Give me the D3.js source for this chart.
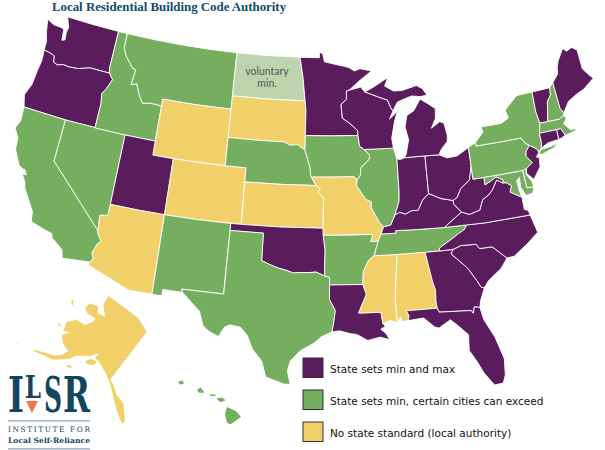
<!DOCTYPE html>
<html>
<head>
<meta charset="utf-8">
<script src="https://cdn.jsdelivr.net/npm/d3@7"></script>
<style>
  html, body { margin: 0; padding: 0; background: #fff; }
  svg { display: block; }
</style>
</head>
<body>
<svg id="chart" width="605" height="450"></svg>
<script>
// categories, in legend order
const categories = ['min-max', 'min-cities', 'none', 'voluntary'];
const legendLabels = ['State sets min and max', 'State sets min, certain cities can exceed', 'No state standard (local authority)'];
const minMaxStates = ['WA','OR','UT','MN','WI','MI','IN','OH','KY','WV','VA','NC','SC','GA','FL','LA','OK','NJ','CT','RI','VT','ME'];
const minCitiesStates = ['CA','NV','ID','MT','NM','TX','NE','IA','IL','AR','TN','PA','NY','MD','DE','MA','NH','HI'];
const noStandardStates = ['AK','AZ','CO','WY','SD','KS','MO','MS','AL'];
const voluntaryStates = ['ND'];

// state outlines, lon/lat, read by eye
const outlines = {
  WA: [[[-124.7,48.4],[-123.9,48.17],[-123.1,48.15],[-122.75,48.1],[-122.6,47.3],[-122.3,47.4],[-122.4,47.95],[-122.3,48.3],[-122.75,49],[-120,49],[-117.03,49],[-117.04,46.42],[-116.92,45.99],[-118.98,46],[-119.3,45.93],[-120.2,45.72],[-121.2,45.65],[-121.7,45.7],[-122.3,45.55],[-122.75,45.65],[-122.9,46.1],[-123.4,46.2],[-124.05,46.27],[-124.1,46.9],[-124.4,47.5]]],
  OR: [[[-124.05,46.27],[-123.4,46.2],[-122.9,46.1],[-122.75,45.65],[-122.3,45.55],[-121.7,45.7],[-121.2,45.65],[-120.2,45.72],[-119.3,45.93],[-118.98,46],[-116.92,45.99],[-116.46,45.6],[-116.85,44.9],[-117.2,44.45],[-117.03,43.8],[-117.03,42],[-120,42],[-124.21,42],[-124.55,42.84],[-124.15,43.7],[-124.07,44.7],[-123.95,45.5]]],
  CA: [[[-124.21,42],[-120,42],[-120,39],[-114.63,35],[-114.57,34.8],[-114.14,34.3],[-114.43,34.1],[-114.72,33.4],[-114.52,33.03],[-114.72,32.72],[-117.12,32.53],[-117.3,33.1],[-118.4,33.75],[-118.5,34.03],[-119.2,34.15],[-120.5,34.45],[-120.65,35.15],[-121.9,36.6],[-122,36.95],[-122.5,37.5],[-122.1,37.5],[-122.4,37.85],[-122.5,37.8],[-123,38],[-123.75,39],[-123.85,39.8],[-124.4,40.4],[-124.1,41]]],
  NV: [[[-120,42],[-114.04,42],[-114.04,36.2],[-114.75,36.1],[-114.63,35],[-120,39]]],
  ID: [[[-117.03,49],[-116.05,49],[-116.05,48],[-115.7,47.5],[-114.7,46.7],[-114.35,46.65],[-114.5,45.56],[-113.95,45.7],[-113.45,44.95],[-113,44.45],[-112.3,44.55],[-111.5,44.55],[-111.05,44.48],[-111.05,42],[-114.04,42],[-117.03,42],[-117.03,43.8],[-117.2,44.45],[-116.85,44.9],[-116.46,45.6],[-116.92,45.99],[-117.04,46.42]]],
  MT: [[[-116.05,49],[-113,49],[-110,49],[-107,49],[-104.05,49],[-104.05,45],[-107.5,45],[-111.05,45],[-111.05,44.48],[-111.5,44.55],[-112.3,44.55],[-113,44.45],[-113.45,44.95],[-113.95,45.7],[-114.5,45.56],[-114.35,46.65],[-114.7,46.7],[-115.7,47.5],[-116.05,48]]],
  WY: [[[-111.05,45],[-107.5,45],[-104.05,45],[-104.05,41],[-107.5,41],[-111.05,41]]],
  UT: [[[-114.04,42],[-111.05,42],[-111.05,41],[-109.05,41],[-109.05,37],[-111.5,37],[-114.04,37]]],
  CO: [[[-109.05,41],[-105.5,41],[-102.05,41],[-102.05,37],[-105.5,37],[-109.05,37]]],
  AZ: [[[-114.04,37],[-111.5,37],[-109.05,37],[-109.05,31.33],[-111.07,31.33],[-114.81,32.5],[-114.72,32.72],[-114.52,33.03],[-114.72,33.4],[-114.43,34.1],[-114.14,34.3],[-114.57,34.8],[-114.63,35],[-114.75,36.1],[-114.04,36.2]]],
  NM: [[[-109.05,37],[-106,37],[-103,37],[-103.04,32],[-106.62,32],[-106.53,31.78],[-108.21,31.78],[-108.21,31.33],[-109.05,31.33]]],
  ND: [[[-104.05,49],[-101,49],[-97.23,49],[-96.85,47.6],[-96.56,45.94],[-100,45.94],[-104.05,45.94]]],
  SD: [[[-104.05,45.94],[-100,45.94],[-96.56,45.94],[-96.45,45.3],[-96.45,43.5],[-96.45,42.49],[-96.7,42.6],[-97.2,42.85],[-97.9,42.78],[-98.5,43],[-101,43],[-104.05,43],[-104.05,45]]],
  NE: [[[-104.05,43],[-101,43],[-98.5,43],[-97.9,42.78],[-97.2,42.85],[-96.7,42.6],[-96.45,42.49],[-96.1,41.7],[-95.9,41.2],[-95.85,40.7],[-95.31,40],[-98.5,40],[-102.05,40],[-102.05,41],[-104.05,41]]],
  KS: [[[-102.05,40],[-98.5,40],[-95.31,40],[-94.9,39.8],[-95.1,39.55],[-94.6,39.1],[-94.62,37],[-98.5,37],[-102.05,37]]],
  OK: [[[-103,37],[-102.05,37],[-98.5,37],[-94.62,37],[-94.43,35.4],[-94.48,33.64],[-95.2,33.9],[-96,33.85],[-96.6,33.85],[-97.2,33.8],[-97.7,33.95],[-98.5,34.1],[-99.2,34.3],[-100,34.56],[-100,36.5],[-103,36.5]]],
  TX: [[[-106.62,32],[-103.04,32],[-103,36.5],[-100,36.5],[-100,34.56],[-99.2,34.3],[-98.5,34.1],[-97.7,33.95],[-97.2,33.8],[-96.6,33.85],[-96,33.85],[-95.2,33.9],[-94.48,33.64],[-94.04,33.55],[-94.04,33],[-94.04,31.99],[-93.55,31.2],[-93.7,30.3],[-93.84,29.7],[-94.7,29.35],[-95.3,28.9],[-96.4,28.35],[-97.2,27.6],[-97.4,26.9],[-97.15,25.96],[-97.6,25.95],[-99.1,26.4],[-99.5,27.5],[-100.3,28.3],[-100.8,29.25],[-101.4,29.77],[-102.3,29.88],[-102.7,29.7],[-103.15,28.98],[-104,29.3],[-104.5,29.65],[-104.9,30.6],[-106,31.4],[-106.53,31.78]]],
  MN: [[[-97.23,49],[-95.15,49],[-95.15,49.38],[-94.8,49.3],[-94.6,48.72],[-93.5,48.55],[-92.5,48.4],[-92,48.3],[-91.4,48.05],[-90.8,48.2],[-89.6,48],[-91,47.3],[-92.01,46.7],[-92.3,46.65],[-92.29,46.07],[-92.87,45.7],[-92.75,44.75],[-91.9,44.3],[-91.25,43.85],[-91.22,43.5],[-94,43.5],[-96.45,43.5],[-96.45,45.3],[-96.56,45.94],[-96.85,47.6]]],
  IA: [[[-96.45,43.5],[-94,43.5],[-91.22,43.5],[-91.1,42.75],[-90.65,42.5],[-90.15,42.1],[-90.2,41.8],[-91.05,41.2],[-91.1,40.7],[-91.42,40.38],[-91.73,40.61],[-93.5,40.6],[-95.77,40.58],[-95.85,40.7],[-95.9,41.2],[-96.1,41.7],[-96.45,42.49]]],
  MO: [[[-95.77,40.58],[-93.5,40.6],[-91.73,40.61],[-91.42,40.38],[-91.5,40],[-90.7,39],[-90.15,38.8],[-90.2,38.4],[-89.5,37.3],[-89.15,37],[-89.4,36.5],[-89.7,36],[-90.37,36],[-90.15,36.5],[-92.4,36.5],[-94.62,36.5],[-94.62,37],[-94.6,39.1],[-95.1,39.55],[-94.9,39.8],[-95.31,40]]],
  AR: [[[-94.62,36.5],[-92.4,36.5],[-90.15,36.5],[-90.37,36],[-89.7,36],[-90.1,35],[-90.6,34.7],[-91.1,33.9],[-91.17,33],[-94.04,33],[-94.04,33.55],[-94.48,33.64],[-94.43,35.4]]],
  LA: [[[-94.04,33],[-91.17,33],[-90.9,32.3],[-91.6,31],[-89.73,31],[-89.6,30.18],[-89.4,30],[-89.8,29.8],[-89.4,29.5],[-89.1,29.05],[-89.9,29.25],[-90.9,29.05],[-91.8,29.5],[-92.3,29.55],[-93.2,29.77],[-93.84,29.7],[-93.7,30.3],[-93.55,31.2],[-94.04,31.99]]],
  MS: [[[-90.1,35],[-88.2,35],[-88.1,34.9],[-88.47,31.9],[-88.4,30.2],[-89,30.4],[-89.6,30.18],[-89.73,31],[-91.6,31],[-90.9,32.3],[-91.17,33],[-91.1,33.9],[-90.6,34.7]]],
  AL: [[[-88.2,35],[-85.6,35],[-85.18,32.87],[-85,32.3],[-85.05,31.5],[-85,31],[-87.6,31],[-87.4,30.65],[-87.5,30.3],[-88,30.25],[-88.1,30.6],[-88.4,30.2],[-88.47,31.9],[-88.1,34.9]]],
  TN: [[[-90.1,35],[-89.7,36],[-89.4,36.5],[-88.07,36.5],[-88.07,36.68],[-86.5,36.65],[-83.68,36.6],[-81.68,36.59],[-81.9,36.3],[-82.6,36],[-83.1,35.75],[-84.3,35.2],[-84.32,34.99],[-85.6,35],[-88.2,35]]],
  KY: [[[-89.4,36.5],[-89.15,37],[-88.5,37.1],[-88.05,37.8],[-87.6,37.95],[-87.1,37.8],[-86.5,38],[-85.9,38],[-85.4,38.7],[-84.8,39.1],[-84.3,38.9],[-83.7,38.65],[-82.6,38.42],[-82.6,38.17],[-81.97,37.54],[-83.68,36.6],[-86.5,36.65],[-88.07,36.68],[-88.07,36.5]]],
  IL: [[[-90.65,42.5],[-87.8,42.49],[-87.53,41.72],[-87.53,39.35],[-87.6,38.7],[-87.95,38],[-88.05,37.8],[-88.5,37.1],[-89.15,37],[-89.5,37.3],[-90.2,38.4],[-90.15,38.8],[-90.7,39],[-91.5,40],[-91.42,40.38],[-91.1,40.7],[-91.05,41.2],[-90.2,41.8],[-90.15,42.1]]],
  IN: [[[-87.53,41.72],[-87.2,41.65],[-86.8,41.76],[-84.8,41.76],[-84.8,39.1],[-85.4,38.7],[-85.9,38],[-86.5,38],[-87.1,37.8],[-87.6,37.95],[-88.05,37.8],[-87.95,38],[-87.6,38.7],[-87.53,39.35]]],
  OH: [[[-84.8,41.76],[-83.45,41.73],[-82.7,41.45],[-81.7,41.5],[-80.52,41.98],[-80.52,40.64],[-80.85,39.7],[-81.75,39.2],[-82.2,38.6],[-82.6,38.42],[-83.7,38.65],[-84.3,38.9],[-84.8,39.1]]],
  WI: [[[-92.01,46.7],[-90.8,46.9],[-90.4,46.55],[-89,46.15],[-88.1,45.9],[-87.8,45.35],[-87.6,45.1],[-88,44.55],[-87.4,44.9],[-87.05,45.25],[-87.5,44.4],[-87.9,43.2],[-87.8,42.49],[-90.65,42.5],[-91.1,42.75],[-91.22,43.5],[-91.25,43.85],[-91.9,44.3],[-92.75,44.75],[-92.87,45.7],[-92.29,46.07],[-92.3,46.65]]],
  MI: [[[-86.8,41.76],[-84.8,41.76],[-83.45,41.73],[-83.15,42.1],[-82.5,42.6],[-82.42,43],[-82.6,43.9],[-83,44.05],[-83.9,43.65],[-83.4,44.3],[-83.3,45],[-84.1,45.45],[-84.75,45.78],[-85.5,45],[-86.25,44.7],[-86.5,43.9],[-86.25,43],[-86.6,42]],
       [[-90.4,46.55],[-89.5,46.85],[-88.5,47.25],[-87.9,47.47],[-88.3,46.9],[-87.4,46.5],[-86.5,46.5],[-85,46.75],[-84.4,46.5],[-84,46],[-84.7,45.95],[-85.6,46.05],[-86.5,45.85],[-87.1,45.7],[-87.6,45.1],[-87.8,45.35],[-88.1,45.9],[-89,46.15]]],
  GA: [[[-85.6,35],[-84.32,34.99],[-83.1,35],[-83.35,34.7],[-82.75,34.2],[-82,33.5],[-81.4,32.6],[-81.1,32.1],[-80.85,32.03],[-81.3,31.2],[-81.45,30.7],[-81.9,30.8],[-82.05,30.36],[-82.2,30.57],[-84.86,30.71],[-85,31],[-85.05,31.5],[-85,32.3],[-85.18,32.87]]],
  FL: [[[-87.6,31],[-85,31],[-84.86,30.71],[-82.2,30.57],[-82.05,30.36],[-81.9,30.8],[-81.45,30.7],[-81.25,29.8],[-80.55,28.5],[-80.05,26.9],[-80.15,25.75],[-80.4,25.2],[-81.1,25.15],[-81.8,26.1],[-82.2,26.9],[-82.75,27.8],[-82.65,28.9],[-83.4,29.6],[-84,30.1],[-85,29.6],[-85.35,29.7],[-86.2,30.4],[-87.5,30.3],[-87.4,30.65]]],
  SC: [[[-83.35,34.7],[-83.1,35],[-82.4,35.2],[-81.05,35.15],[-80.8,34.82],[-79.67,34.8],[-78.55,33.86],[-79.2,33.2],[-80.4,32.5],[-80.85,32.03],[-81.1,32.1],[-81.4,32.6],[-82,33.5],[-82.75,34.2]]],
  NC: [[[-84.32,34.99],[-84.3,35.2],[-83.1,35.75],[-82.6,36],[-81.9,36.3],[-81.68,36.59],[-80,36.55],[-75.87,36.55],[-75.5,35.25],[-76.5,34.65],[-77.9,33.9],[-78.55,33.86],[-79.67,34.8],[-80.8,34.82],[-81.05,35.15],[-82.4,35.2],[-83.1,35]]],
  VA: [[[-83.68,36.6],[-81.97,37.54],[-81.3,37.3],[-80.3,37.5],[-79.9,38.2],[-79.3,38.45],[-78.87,38.77],[-78.35,39.4],[-77.83,39.13],[-77.5,39.1],[-77.05,38.8],[-77.3,38.4],[-76.3,37.9],[-76.3,37],[-75.97,36.9],[-75.87,36.55],[-80,36.55],[-81.68,36.59]]],
  WV: [[[-82.6,38.17],[-82.6,38.42],[-82.2,38.6],[-81.75,39.2],[-80.85,39.7],[-80.52,40.64],[-80.52,39.72],[-79.48,39.72],[-79.48,39.2],[-78.9,39.4],[-78.35,39.63],[-77.72,39.32],[-77.83,39.13],[-78.35,39.4],[-78.87,38.77],[-79.3,38.45],[-79.9,38.2],[-80.3,37.5],[-81.3,37.3],[-81.97,37.54]]],
  PA: [[[-80.52,41.98],[-79.76,42.27],[-79.76,42],[-77.5,42],[-75.35,42],[-75.05,41.6],[-74.7,41.36],[-75.13,40.97],[-75.2,40.65],[-74.73,40.15],[-75.4,39.8],[-75.79,39.72],[-77.5,39.72],[-79.48,39.72],[-80.52,39.72],[-80.52,40.64]]],
  NY: [[[-79.76,42.27],[-78.9,42.9],[-79.05,43.27],[-77,43.27],[-76.2,43.55],[-76.35,44.15],[-75,44.97],[-74.7,45],[-73.35,45],[-73.4,43.6],[-73.25,42.75],[-73.5,42.05],[-73.5,41.3],[-73.65,41],[-73.95,40.75],[-74.05,41],[-74.7,41.36],[-75.05,41.6],[-75.35,42],[-77.5,42],[-79.76,42]],
       [[-74.03,40.6],[-73.7,40.9],[-72.6,40.98],[-72,41.1],[-72.4,40.83],[-73.6,40.58]]],
  NJ: [[[-74.7,41.36],[-74.05,41],[-73.95,40.75],[-74.25,40.45],[-74,40.4],[-74.1,39.75],[-74.9,38.95],[-75.5,39.5],[-75.4,39.8],[-74.73,40.15],[-75.2,40.65],[-75.13,40.97]]],
  DE: [[[-75.79,39.72],[-75.4,39.8],[-75.55,39.45],[-75.1,38.8],[-75.05,38.45],[-75.7,38.46]]],
  MD: [[[-79.48,39.72],[-77.5,39.72],[-75.79,39.72],[-75.7,38.46],[-75.05,38.45],[-75.25,38.03],[-75.9,37.95],[-76.25,38.6],[-76.2,39.3],[-76.5,39.1],[-76.45,38.4],[-76.3,37.9],[-77.3,38.4],[-77.05,38.8],[-77.5,39.1],[-77.83,39.13],[-77.72,39.32],[-78.35,39.63],[-78.9,39.4],[-79.48,39.2]]],
  MA: [[[-73.5,42.05],[-73.25,42.75],[-72.46,42.73],[-71.3,42.7],[-70.85,42.87],[-70.6,42.65],[-71,42.3],[-70.65,41.95],[-70.5,41.78],[-70,41.78],[-70.05,42.05],[-70.2,42.07],[-69.95,41.85],[-70,41.65],[-70.6,41.55],[-71.12,41.5],[-71.38,42.02],[-71.8,42.02]]],
  CT: [[[-73.5,42.05],[-71.8,42.02],[-71.8,41.32],[-72.9,41.25],[-73.65,41],[-73.5,41.3]]],
  RI: [[[-71.8,42.02],[-71.38,42.02],[-71.12,41.5],[-71.5,41.37],[-71.8,41.32]]],
  VT: [[[-73.35,45],[-71.5,45.01],[-71.6,44.5],[-72.05,44.1],[-72.46,42.73],[-73.25,42.75],[-73.4,43.6]]],
  NH: [[[-71.5,45.01],[-71.08,45.3],[-70.98,43.4],[-70.7,43.07],[-70.85,42.87],[-71.3,42.7],[-72.46,42.73],[-72.05,44.1],[-71.6,44.5]]],
  ME: [[[-71.08,45.3],[-70.4,45.8],[-70.25,46.3],[-70,46.7],[-69.23,47.46],[-68.9,47.2],[-68.3,47.36],[-67.8,47.07],[-67.8,45.7],[-67.45,45.3],[-67,44.85],[-68.2,44.3],[-69,44.1],[-70,43.75],[-70.7,43.07],[-70.98,43.4]]],
  HI: [[[-155.9,20.25],[-155.2,19.95],[-154.8,19.5],[-155.65,18.95],[-155.9,19.1],[-156.05,19.7]],
       [[-156.7,20.9],[-156.3,20.95],[-156,20.75],[-156.4,20.6],[-156.65,20.8]],
       [[-158.25,21.55],[-157.95,21.7],[-157.65,21.3],[-158.1,21.3]],
       [[-159.75,22.1],[-159.35,22.2],[-159.3,21.95],[-159.6,21.9]],
       [[-157.25,21.2],[-156.75,21.15],[-156.85,21.05],[-157.25,21.1]]]
};

// Alaska in the picture fits no true projection, so it is traced on its own inset grid
const alaskaInset = [
  [[410,140],[300,285],[310,300],[320,330],[340,355],[345,410],[335,415],[322,380],[312,345],[303,305],[296,285],[282,255],[268,232],[255,218],[268,205],[240,213],[220,212],[200,212],[175,222],[130,224],[105,212],[70,198],[75,194],[110,205],[135,212],[160,208],[175,198],[160,178],[155,150],[180,142],[160,138],[170,110],[200,105],[225,120],[250,110],[255,100],[232,85],[225,70],[240,55],[265,65],[262,85],[285,95],[280,60],[295,33],[340,65],[385,100]],
  [[225,228],[245,222],[262,230],[250,240],[232,238]],
  [[184,45],[190,45],[188,62],[185,60]],
  [[145,115],[152,118],[152,123],[146,122]],
  [[170,240],[185,242],[185,248],[172,247]],
  [[20,175],[26,176],[26,178],[20,177]]
];

// d3 spherical polygons need clockwise rings
function stateFeature(id) {
  const rings = outlines[id].map(r => {
    const ring = r.concat([r[0]]);
    return d3.geoArea({type: 'Polygon', coordinates: [ring]}) > 2 * Math.PI ? ring.reverse() : ring;
  });
  return {type: 'Feature', id: id, geometry: {type: 'MultiPolygon', coordinates: rings.map(r => [r])}};
}

const colors = {'min-max': '#5a1c5c', 'min-cities': '#76ae5f', 'none': '#f1cf69', 'voluntary': '#bdd5ae'};
const groupOf = {};
minMaxStates.forEach(s => groupOf[s] = 'min-max');
minCitiesStates.forEach(s => groupOf[s] = 'min-cities');
noStandardStates.forEach(s => groupOf[s] = 'none');
voluntaryStates.forEach(s => groupOf[s] = 'voluntary');

const svg = d3.select('#chart');

// latitudes in the picture are evenly spaced, so equidistant fits better than albers
const yStretch = 1.017;
const lower48 = d3.geoConicEquidistant().parallels([29.5, 45.5]).rotate([94, 0]).center([0, 38])
  .scale(800).translate([330, 214 / yStretch]);
const stretched = d3.geoTransform({point(x, y) { this.stream.point(x, y * yStretch); }});
const lowerPath = d3.geoPath({stream: s => lower48.stream(stretched.stream(s))});

const alaskaPath = d3.geoPath(d3.geoIdentity().scale(1 / 3).translate([10, 285]));
const hawaii = d3.geoConicEqualArea().parallels([8, 18]).rotate([157, 0])
  .fitExtent([[178, 379], [241, 426]], stateFeature('HI'));
const hawaiiPath = d3.geoPath(hawaii);

const stateFeatures = Object.keys(outlines).map(stateFeature);
stateFeatures.push({type: 'Feature', id: 'AK', geometry: {type: 'MultiPolygon',
  coordinates: alaskaInset.map(r => [r.concat([r[0]])])}});

function pathFor(id) {
  if (id === 'AK') return alaskaPath;
  if (id === 'HI') return hawaiiPath;
  return lowerPath;
}

svg.append('g').selectAll('path')
  .data(stateFeatures)
  .join('path')
  .attr('d', d => pathFor(d.id)(d))
  .attr('fill', d => colors[groupOf[d.id]])
  .attr('stroke', d => (d.id === 'AK' || d.id === 'HI') ? 'none' : '#fff')
  .attr('stroke-width', 0.9)
  .attr('stroke-linejoin', 'round');

// title
svg.append('text')
  .attr('x', 52).attr('y', 11)
  .attr('font-family', '"Liberation Serif", serif')
  .attr('font-weight', 'bold')
  .attr('font-size', 12.85)
  .attr('fill', '#0f4a6e')
  .text('Local Residential Building Code Authority');

// label on North Dakota
const ndLabel = svg.append('text')
  .attr('font-family', 'Lato, sans-serif')
  .attr('font-size', 10.5)
  .attr('fill', '#555')
  .attr('text-anchor', 'middle');
ndLabel.append('tspan').attr('x', 267).attr('y', 75).text('voluntary');
ndLabel.append('tspan').attr('x', 267).attr('y', 87).text('min.');

// legend
const legendY = d3.scalePoint().domain(legendLabels).range([358, 422]);
const legend = svg.append('g').selectAll('g')
  .data(legendLabels)
  .join('g')
  .attr('transform', d => `translate(303,${legendY(d)})`);
legend.append('rect')
  .attr('width', 20).attr('height', 19.5)
  .attr('fill', (d, i) => colors[categories[i]])
  .attr('stroke', '#333')
  .attr('stroke-width', 1);
legend.append('text')
  .attr('x', 27).attr('y', 15)
  .attr('font-family', '"DejaVu Sans", sans-serif')
  .attr('font-size', 10.5)
  .attr('fill', '#111')
  .text(d => d);

// logo, each letter squeezed into its own box
const navy = '#13455f';
const logoFont = '"DejaVu Serif", serif';
const logo = svg.append('g').attr('font-family', logoFont).attr('fill', navy);
const logoLetters = [
  {t: 'I', x: 8, w: 16, y: 412, s: 49},
  {t: 'L', x: 25, w: 16, y: 398, s: 32},
  {t: 'S', x: 44, w: 18, y: 412, s: 49},
  {t: 'R', x: 63, w: 27, y: 412, s: 49}
];
logo.selectAll('text.mark')
  .data(logoLetters)
  .join('text')
  .attr('class', 'mark')
  .attr('font-size', d => d.s)
  .attr('font-weight', 'bold')
  .text(d => d.t)
  .attr('transform', function(d) {
    return `translate(${d.x},${d.y}) scale(${d.w / this.getComputedTextLength()},1)`;
  });
logo.append('path').attr('d', 'M26,401L38,401L32,413Z').attr('fill', '#f0734f');
logo.append('rect').attr('x', 8).attr('y', 420).attr('width', 82).attr('height', 1.6).attr('fill', '#a9bac6');
logo.append('rect').attr('x', 8).attr('y', 448).attr('width', 82).attr('height', 1.6).attr('fill', '#a9bac6');
logo.append('text').attr('x', 8).attr('y', 432)
  .attr('font-size', 7.4)
  .attr('textLength', 82)
  .text('INSTITUTE FOR');
logo.append('text').attr('x', 8).attr('y', 443)
  .attr('font-weight', 'bold').attr('font-size', 7.4)
  .attr('textLength', 82).attr('lengthAdjust', 'spacingAndGlyphs')
  .text('Local Self-Reliance');
</script>
</body>
</html>
